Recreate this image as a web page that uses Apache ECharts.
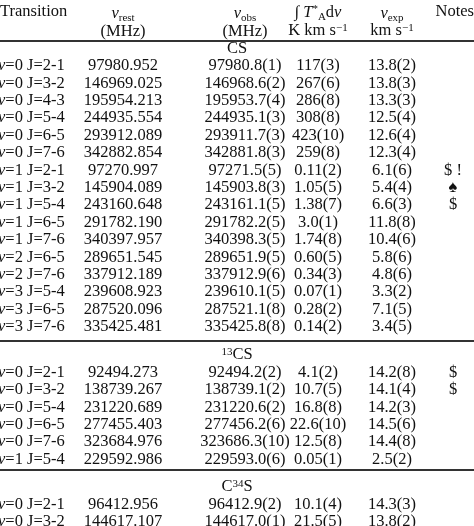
<!DOCTYPE html>
<html><head><meta charset="utf-8">
<script src="https://cdn.jsdelivr.net/npm/echarts@6/dist/echarts.min.js"></script>
<style>html,body{margin:0;padding:0;background:#fff}#main{width:474px;height:526px}</style>
</head><body><div id="main"></div>
<script>
// CS rows
var csTrans = ['v=0 J=2-1','v=0 J=3-2','v=0 J=4-3','v=0 J=5-4','v=0 J=6-5','v=0 J=7-6','v=1 J=2-1','v=1 J=3-2','v=1 J=5-4','v=1 J=6-5','v=1 J=7-6','v=2 J=6-5','v=2 J=7-6','v=3 J=5-4','v=3 J=6-5','v=3 J=7-6'];
var csRest = ['97980.952','146969.025','195954.213','244935.554','293912.089','342882.854','97270.997','145904.089','243160.648','291782.190','340397.957','289651.545','337912.189','239608.923','287520.096','335425.481'];
var csObs = ['97980.8(1)','146968.6(2)','195953.7(4)','244935.1(3)','293911.7(3)','342881.8(3)','97271.5(5)','145903.8(3)','243161.1(5)','291782.2(5)','340398.3(5)','289651.9(5)','337912.9(6)','239610.1(5)','287521.1(8)','335425.8(8)'];
var csInt = ['117(3)','267(6)','286(8)','308(8)','423(10)','259(8)','0.11(2)','1.05(5)','1.38(7)','3.0(1)','1.74(8)','0.60(5)','0.34(3)','0.07(1)','0.28(2)','0.14(2)'];
var csVexp = ['13.8(2)','13.8(3)','13.3(3)','12.5(4)','12.6(4)','12.3(4)','6.1(6)','5.4(4)','6.6(3)','11.8(8)','10.4(6)','5.8(6)','4.8(6)','3.3(2)','7.1(5)','3.4(5)'];
var csNotes = ['','','','','','','$ !','\u2660','$','','','','','','',''];
// 13CS rows
var c13Trans = ['v=0 J=2-1','v=0 J=3-2','v=0 J=5-4','v=0 J=6-5','v=0 J=7-6','v=1 J=5-4'];
var c13Rest = ['92494.273','138739.267','231220.689','277455.403','323684.976','229592.986'];
var c13Obs = ['92494.2(2)','138739.1(2)','231220.6(2)','277456.2(6)','323686.3(10)','229593.0(6)'];
var c13Int = ['4.1(2)','10.7(5)','16.8(8)','22.6(10)','12.5(8)','0.05(1)'];
var c13Vexp = ['14.2(8)','14.1(4)','14.2(3)','14.5(6)','14.4(8)','2.5(2)'];
var c13Notes = ['$','$','','','',''];
// C34S rows
var c34Trans = ['v=0 J=2-1','v=0 J=3-2'];
var c34Rest = ['96412.956','144617.107'];
var c34Obs = ['96412.9(2)','144617.0(1)'];
var c34Int = ['10.1(4)','21.5(5)'];
var c34Vexp = ['14.3(3)','13.8(2)'];
var c34Notes = ['',''];

var FONT = '"Liberation Serif","DejaVu Serif",serif';
var FS = 16.5;
var colX = [0, 123, 245, 318, 392, 453];
var els = [];
function txt(x, y, s, align) {
    els.push({type: 'text', style: {x: x, y: y, text: s, fill: '#111', font: FS + 'px ' + FONT, align: align || 'center', verticalAlign: 'middle'}});
}
function line(y, w) {
    els.push({type: 'line', shape: {x1: 0, y1: y, x2: 474, y2: y}, style: {stroke: '#333', lineWidth: w}});
}
var rich = {
    it: {fontFamily: FONT, fontStyle: 'italic', fontSize: FS, fill: '#111'},
    sub: {fontFamily: FONT, fontSize: 11, fill: '#111', verticalAlign: 'bottom', padding: [8, 0, 0, 0]},
    sup: {fontFamily: FONT, fontSize: 11, fill: '#111', verticalAlign: 'top', padding: [0, 0, 6, 0]},
    n: {fontFamily: FONT, fontSize: FS, fill: '#111'}
};
function rtxt(x, y, s) {
    els.push({type: 'text', style: {x: x, y: y, text: s, rich: rich, align: 'center', verticalAlign: 'middle', font: FS + 'px ' + FONT, fill: '#111'}});
}
function trans(x, y, s) {
    // italic v for vibrational level
    els.push({type: 'text', style: {x: x, y: y, text: '{it|v}{n|' + s.slice(1) + '}', rich: rich, align: 'left', verticalAlign: 'middle'}});
}
// header
txt(0, 12, 'Transition', 'left');
rtxt(colX[1], 14, '{it|\u03bd}{sub|rest}');
txt(colX[1], 32, '(MHz)');
rtxt(colX[2], 14, '{it|\u03bd}{sub|obs}');
txt(colX[2], 32, '(MHz)');
rtxt(colX[3], 13, '{n|\u222b }{it|T}{sup|*}{sub|A}{n|d}{it|v}');
rtxt(colX[3], 31, '{n|K km s}{sup|\u22121}');
rtxt(colX[4], 14, '{it|v}{sub|exp}');
rtxt(colX[4], 31, '{n|km s}{sup|\u22121}');
txt(474, 12, 'Notes', 'right');
line(41, 2);

function section(yHead, label, tr, re, ob, it, ve, no) {
    rtxt(237, yHead, label);
    for (var i = 0; i < tr.length; i++) {
        var y = yHead + 17.4 * (i + 1);
        trans(-2, y, tr[i]);
        txt(colX[1], y, re[i]);
        txt(colX[2], y, ob[i]);
        txt(colX[3], y, it[i]);
        txt(colX[4], y, ve[i]);
        txt(colX[5], y, no[i]);
    }
}
section(48.5, '{n|CS}', csTrans, csRest, csObs, csInt, csVexp, csNotes);
line(341, 2);
section(355, '{sup|13}{n|CS}', c13Trans, c13Rest, c13Obs, c13Int, c13Vexp, c13Notes);
line(470, 2);
section(487, '{n|C}{sup|34}{n|S}', c34Trans, c34Rest, c34Obs, c34Int, c34Vexp, c34Notes);

var myChart = echarts.init(document.getElementById('main'));
myChart.setOption({backgroundColor: '#fff', graphic: {elements: els}});
</script></body></html>
